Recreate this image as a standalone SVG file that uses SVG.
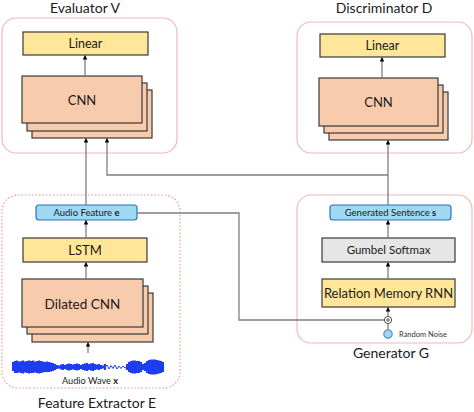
<svg xmlns="http://www.w3.org/2000/svg" width="474" height="412" viewBox="0 0 474 412">
<defs>
<marker id="ah" viewBox="0 0 10 10" refX="10" refY="5" markerWidth="4.5" markerHeight="4.5" orient="auto" markerUnits="userSpaceOnUse">
<path d="M0 0L10 5L0 10z" fill="#000"/>
</marker>
<style>
.cont{fill:#fff;stroke:#f2b9b9;stroke-width:1.2}
.dot{fill:#fff;stroke:#ef8f8f;stroke-width:1.1;stroke-dasharray:1.5 2}
.yel{fill:#ffe699;stroke:#3a3a3a;stroke-width:1.2}
.sal{fill:#f8cbad;stroke:#3a3a3a;stroke-width:1.2}
.gry{fill:#e7e6e6;stroke:#3a3a3a;stroke-width:1.2}
.blu{fill:#9fd8f3;stroke:#2e75b6;stroke-width:1.2}
.t{font-family:Lato,"Liberation Sans",sans-serif;fill:#1a1a1a;text-anchor:middle}
.ttl{font-size:14px}
.ln{fill:none;stroke:#7f7f7f;stroke-width:1.3}
.ar{fill:none;stroke:#7f7f7f;stroke-width:1.3;marker-end:url(#ah)}
</style>
</defs>
<rect width="474" height="412" fill="#fff"/>

<g id="evaluator">
<rect class="cont" x="2" y="18" width="175" height="135" rx="14"/>
<text class="t ttl" x="85" y="13">Evaluator V</text>
</g>
<g id="eval-linear">
<rect class="yel" x="23" y="32" width="125" height="23"/>
<text class="t" x="85.5" y="48" font-size="12.5">Linear</text>
</g>
<g id="eval-cnn">
<rect class="sal" x="32" y="90" width="120" height="48"/>
<rect class="sal" x="27" y="83" width="120" height="48"/>
<rect class="sal" x="22" y="76" width="120" height="47"/>
<text class="t" x="82" y="104.5" font-size="13">CNN</text>
</g>

<g id="discriminator">
<rect class="cont" x="297" y="22" width="175" height="131" rx="14"/>
<text class="t ttl" x="384" y="13">Discriminator D</text>
</g>
<g id="disc-linear">
<rect class="yel" x="320" y="34" width="125" height="23"/>
<text class="t" x="382.5" y="50" font-size="12.5">Linear</text>
</g>
<g id="disc-cnn">
<rect class="sal" x="329" y="92" width="119" height="48"/>
<rect class="sal" x="324" y="85" width="119" height="48"/>
<rect class="sal" x="319" y="78" width="119" height="48"/>
<text class="t" x="378.5" y="106.5" font-size="13">CNN</text>
</g>

<g id="feature-extractor">
<rect class="dot" x="2" y="195" width="178" height="193" rx="16"/>
<text class="t ttl" x="97" y="408">Feature Extractor E</text>
</g>
<g id="audio-feature">
<rect class="blu" x="36" y="205" width="101" height="15" rx="3"/>
<text class="t" x="86.5" y="216" font-size="9.5">Audio Feature <tspan font-weight="bold">e</tspan></text>
</g>
<g id="lstm">
<rect class="yel" x="23" y="238" width="124" height="24"/>
<text class="t" x="85" y="255" font-size="13">LSTM</text>
</g>
<g id="dilated-cnn">
<rect class="sal" x="32" y="293" width="121" height="49"/>
<rect class="sal" x="27" y="286" width="121" height="48"/>
<rect class="sal" x="22" y="279" width="121" height="48"/>
<text class="t" x="82.5" y="308.5" font-size="13.5">Dilated CNN</text>
</g>
<g id="audio-wave">
<path fill="none" stroke="#1f3df0" stroke-width="2.1" d="M13 362V371M15 361V373M17 360.5V373M19 361.5V372.5M21 361V373M23 360.5V373.5M25 361.5V372.5M27 361V373M29 360.5V373.5M31 361V373M33 360.5V373M35 361.5V372.5M37 361V373M39 360.5V373.5M41 361V373M43 361.5V372.5M45 362V372M47 361.5V372M49 362V372M51 362.5V371.5M53 363V371M55 364V370M57 365V369M59 365.5V368.5M61 364.5V369.5M63 364V370M65 365V369M67 364V370M69 363.5V370.5M71 364V370M73 364.5V369.5M75 364V370M77 363.5V370.5M79 364V370M81 365V369M83 364V370M85 363.5V370.5M87 363V371M89 364V370M91 363.5V370.5M93 363V371M95 364V370M97 364.5V369.5M99 364V370M101 365V369M103 365.5V368.5M105 364V370M127 364V370M129 362V372M131 361V373M133 360.5V373.5M135 360.5V373.5M137 361V373M139 361V373M141 362V372M143 364V370M145 363V371M147 361V373M149 360V374M151 359.5V374.5M153 359.5V374.5M155 359.5V374.5M157 360V374M159 360.5V373.5M161 361V373M163 362V372"/>
<path fill="none" stroke="#1f3df0" stroke-width="1" d="M105 367L107 365L109 369L111 365.5L113 368.5L115 365L117 369L119 366L121 368.5L123 366L125 368L127 367"/>
<text class="t" x="90" y="384" font-size="9.2">Audio Wave <tspan font-weight="bold">x</tspan></text>
</g>

<g id="generator">
<rect class="cont" x="297" y="195" width="175" height="148" rx="14"/>
<text class="t ttl" x="391" y="358">Generator G</text>
</g>
<g id="generated-sentence">
<rect class="blu" x="330" y="205" width="121" height="15" rx="3"/>
<text class="t" x="390.5" y="216" font-size="9.5">Generated Sentence <tspan font-weight="bold">s</tspan></text>
</g>
<g id="gumbel-softmax">
<rect class="gry" x="322" y="238" width="133" height="24"/>
<text class="t" x="388.5" y="254" font-size="11.5">Gumbel Softmax</text>
</g>
<g id="relation-memory-rnn">
<rect class="yel" x="322" y="279" width="133" height="28"/>
<text class="t" x="388.5" y="298" font-size="13">Relation Memory RNN</text>
</g>
<g id="plus">
<circle cx="388" cy="320" r="3.6" fill="#fff" stroke="#333" stroke-width="0.9"/>
<path d="M386 320H390M388 318V322" stroke="#333" stroke-width="0.8"/>
</g>
<g id="random-noise">
<circle cx="388" cy="334" r="4.2" fill="#9fd8f3" stroke="#2e75b6" stroke-width="1"/>
<text x="399" y="336.5" font-family="Lato,'Liberation Sans',sans-serif" font-size="7.5" fill="#333">Random Noise</text>
</g>

<g id="connectors">
<path class="ar" d="M85 76V55"/>
<path class="ar" d="M382 78V57"/>
<path class="ar" d="M86 205V138"/>
<path class="ar" d="M388 205V140"/>
<path class="ar" d="M388 175H107V138"/>
<path class="ln" d="M137 213H239V320H384.4"/>
<path class="ar" d="M86 238V220"/>
<path class="ar" d="M86 279V262"/>
<path class="ar" d="M88 353V342"/>
<path class="ln" d="M388 329.8V323.6"/>
<path class="ar" d="M388 316.4V307"/>
<path class="ar" d="M388 279V262"/>
<path class="ar" d="M388 238V220"/>
</g>
</svg>
